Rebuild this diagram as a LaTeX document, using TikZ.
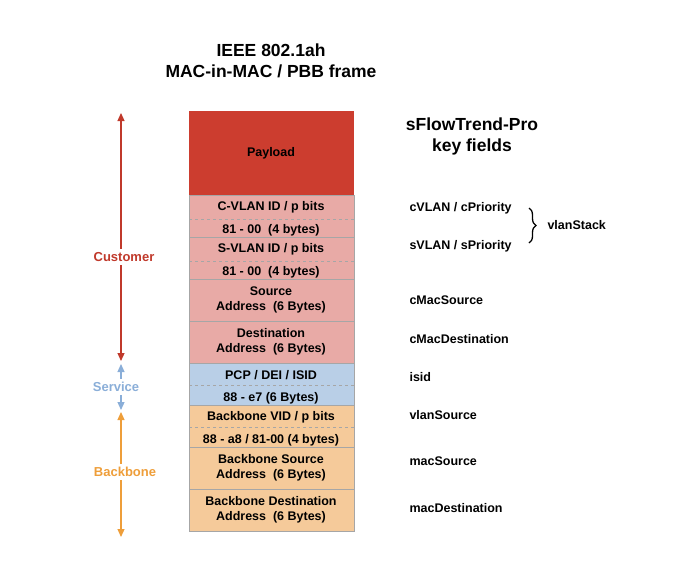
\documentclass[tikz,border=0pt]{standalone}
\usepackage{fontspec}
\setmainfont{Liberation Sans}
\usetikzlibrary{arrows.meta,decorations.pathreplacing}
\definecolor{pay}{HTML}{CC3D2F}
\definecolor{cust}{HTML}{E8AAA6}
\definecolor{serv}{HTML}{B9CFE7}
\definecolor{bb}{HTML}{F5CA9A}
\definecolor{redA}{HTML}{C0392B}
\definecolor{blueA}{HTML}{8AAED8}
\definecolor{oraA}{HTML}{EE9E3A}
\begin{document}
\begin{tikzpicture}[x=1pt,y=-1pt,
  fld/.style={draw=gray!70,line width=0.6pt},
  txt/.style={font=\bfseries\fontsize{12.5}{15.5}\selectfont,align=center},
  rl/.style={font=\bfseries\fontsize{12.5}{15}\selectfont,anchor=west},
  lbl/.style={font=\bfseries\fontsize{13}{15}\selectfont},
  dsh/.style={dashed,gray!70,line width=0.5pt},
  arr/.style={line width=1.2pt,-{Triangle[width=7pt,length=8pt]}}]
\useasboundingbox (0,0) rectangle (685,566);
\node[font=\bfseries\fontsize{17.5}{21}\selectfont,align=center] (title) at (271,61) {IEEE 802.1ah\\MAC-in-MAC / PBB frame};
\node[font=\bfseries\fontsize{17.5}{21}\selectfont,align=center] (title2) at (472,136) {sFlowTrend-Pro\\key fields};
% boxes
\fill[pay] (189,111) rectangle (354,195);
\draw[fld,fill=cust] (189,195) rectangle (354,237);
\draw[fld,fill=cust] (189,237) rectangle (354,279);
\draw[fld,fill=cust] (189,279) rectangle (354,321);
\draw[fld,fill=cust] (189,321) rectangle (354,363);
\draw[fld,fill=serv] (189,363) rectangle (354,405);
\draw[fld,fill=bb] (189,405) rectangle (354,447);
\draw[fld,fill=bb] (189,447) rectangle (354,489);
\draw[fld,fill=bb] (189,489) rectangle (354,531);
\foreach \y in {219,261,385,427} \draw[dsh] (189,\y) -- (354,\y);
\node[txt] (p) at (271,153) {Payload};
\node[txt] (c1) at (271,207) {C-VLAN ID / p bits};
\node[txt] (c2) at (271,230) {81 - 00\ \ (4 bytes)};
\node[txt] (s1) at (271,249) {S-VLAN ID / p bits};
\node[txt] (s2) at (271,272) {81 - 00\ \ (4 bytes)};
\node[txt] (sa) at (271,300) {Source\\Address\ \ (6 Bytes)};
\node[txt] (da) at (271,342) {Destination\\Address\ \ (6 Bytes)};
\node[txt] (i1) at (271,375) {PCP / DEI / ISID};
\node[txt] (i2) at (271,398) {88 - e7 (6 Bytes)};
\node[txt] (b1) at (271,417) {Backbone VID / p bits};
\node[txt] (b2) at (271,440) {88 - a8 / 81-00 (4 bytes)};
\node[txt] (bs) at (271,468) {Backbone Source\\Address\ \ (6 Bytes)};
\node[txt] (bd) at (271,510) {Backbone Destination\\Address\ \ (6 Bytes)};
% right labels
\node[rl] (r1) at (406,208) {cVLAN / cPriority};
\node[rl] (r2) at (406,246) {sVLAN / sPriority};
\node[rl] (r3) at (406,300) {cMacSource};
\node[rl] (r4) at (406,339) {cMacDestination};
\node[rl] (r5) at (406,377) {isid};
\node[rl] (r6) at (406,415) {vlanSource};
\node[rl] (r7) at (406,461) {macSource};
\node[rl] (r8) at (406,508) {macDestination};
\draw[line width=1.3pt,decorate,decoration={brace,amplitude=7pt}] (529,208) -- (529,243);
\node[rl] (vs) at (544,225) {vlanStack};
% left arrows
\node[lbl,text=redA] (cu) at (124,257) {Customer};
\node[lbl,text=blueA] (se) at (116,387) {Service};
\node[lbl,text=oraA] (bk) at (125,472) {Backbone};
\coordinate (ct) at (121,113); \coordinate (cb) at (121,361);
\coordinate (st) at (121,364); \coordinate (sb) at (121,410);
\coordinate (bt) at (121,412); \coordinate (bb2) at (121,537);
\draw[arr,redA] (cu.north -| ct) -- (ct);
\draw[arr,redA] (cu.south -| ct) -- (cb);
\draw[arr,blueA] (se.north -| ct) -- (st);
\draw[arr,blueA] (se.south -| ct) -- (sb);
\draw[arr,oraA] (bk.north -| ct) -- (bt);
\draw[arr,oraA] (bk.south -| ct) -- (bb2);
\end{tikzpicture}
\end{document}
